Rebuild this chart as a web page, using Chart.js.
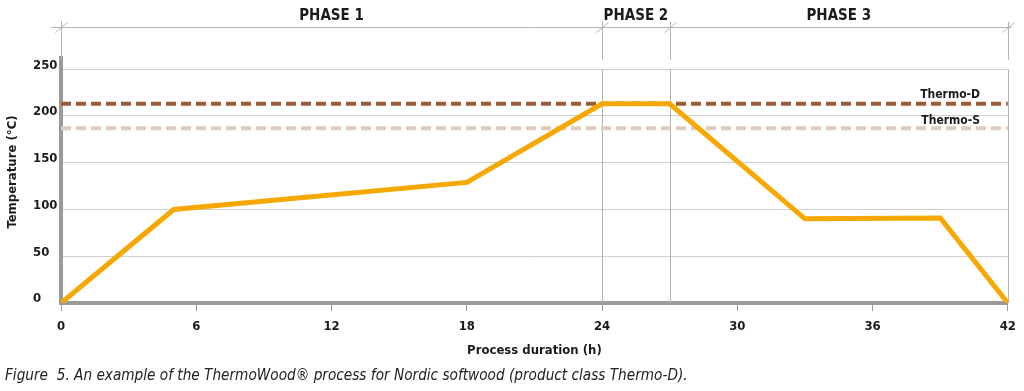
<!DOCTYPE html>
<html>
<head>
<meta charset="utf-8">
<script src="https://cdn.jsdelivr.net/npm/chart.js@4.4.1/dist/chart.umd.min.js"></script>
<style>
  html, body { margin: 0; padding: 0; background: #fff; }
  #wrap { width: 1024px; height: 391px; position: relative; }
</style>
</head>
<body>
<div id="wrap"><canvas id="chart"></canvas></div>
<script>
// data
var hours = [0, 5, 18, 24, 27, 33, 39, 42];
var temps = [0, 100, 129, 213, 213, 90, 91, 0];
var thermoD = 213;
var thermoS = 187;
var phaseBounds = [0, 24, 27, 42];
var phaseNames = ['PHASE 1', 'PHASE 2', 'PHASE 3'];
var yTicks = [0, 50, 100, 150, 200, 250];

var FONT = "'Liberation Sans Narrow', 'DejaVu Sans Condensed', 'Roboto Condensed', sans-serif";
var INK = '#1b1b1b';

function pts(xs, ys) {
  return xs.map(function(x, i) { return { x: x, y: ys[i] }; });
}

// phase bar, phase dividers, labels and captions
var extras = {
  id: 'extras',
  beforeDatasetsDraw: function(chart) {
    var ctx = chart.ctx, xs = chart.scales.x, ys = chart.scales.y;
    var top = ys.getPixelForValue(250), bottom = chart.chartArea.bottom;
    ctx.save();
    ctx.strokeStyle = '#b4b4b4';
    ctx.lineWidth = 1;
    phaseBounds.slice(1).forEach(function(b) {
      var x = Math.round(xs.getPixelForValue(b)) + 0.5;
      ctx.beginPath();
      ctx.moveTo(x, top);
      ctx.lineTo(x, bottom);
      ctx.stroke();
    });
    ctx.restore();
  },
  afterDraw: function(chart) {
    var ctx = chart.ctx, xs = chart.scales.x, ys = chart.scales.y;
    var area = chart.chartArea;
    var barY = 27.5;
    ctx.save();
    // phase bar
    ctx.strokeStyle = '#b4b4b4';
    ctx.lineWidth = 1;
    ctx.beginPath();
    ctx.moveTo(xs.getPixelForValue(0) - 10, barY);
    ctx.lineTo(xs.getPixelForValue(42) + 4, barY);
    ctx.stroke();
    phaseBounds.forEach(function(b) {
      var x = Math.round(xs.getPixelForValue(b)) + 0.5;
      ctx.beginPath();
      ctx.moveTo(x, barY - 6);
      ctx.lineTo(x, area.top + 2);
      ctx.moveTo(x - 6, barY + 5);
      ctx.lineTo(x + 6, barY - 5);
      ctx.stroke();
    });
    // phase names
    ctx.fillStyle = INK;
    ctx.font = 'bold 15px ' + FONT;
    ctx.textAlign = 'center';
    ctx.textBaseline = 'middle';
    phaseNames.forEach(function(n, i) {
      var cx = (xs.getPixelForValue(phaseBounds[i]) + xs.getPixelForValue(phaseBounds[i + 1])) / 2;
      ctx.fillText(n, cx, 16);
    });
    // thermo labels
    ctx.font = 'bold 12px ' + FONT;
    ctx.textAlign = 'right';
    ctx.textBaseline = 'bottom';
    ctx.fillText('Thermo-D', 980, ys.getPixelForValue(thermoD) - 3);
    ctx.fillText('Thermo-S', 980, ys.getPixelForValue(thermoS) - 1);
    // axis titles
    ctx.font = 'bold 13px ' + FONT;
    ctx.textAlign = 'center';
    ctx.textBaseline = 'middle';
    ctx.fillText('Process duration (h)', (area.left + area.right) / 2, 351);
    ctx.save();
    ctx.translate(13, 172);
    ctx.rotate(-Math.PI / 2);
    ctx.fillText('Temperature (\u00b0C)', 0, 0);
    ctx.restore();
    // caption
    ctx.font = 'italic 15.2px ' + FONT;
    ctx.textAlign = 'left';
    ctx.fillStyle = '#222';
    ctx.fillText('Figure  5. An example of the ThermoWood\u00ae process for Nordic softwood (product class Thermo-D).', 5, 376);
    ctx.restore();
  }
};

new Chart(document.getElementById('chart'), {
  type: 'line',
  data: {
    datasets: [
      {
        data: pts(hours, temps),
        borderColor: '#f6a800',
        borderWidth: 5,
        pointRadius: 0,
        order: 0
      },
      {
        data: pts([0, 42], [thermoD, thermoD]),
        borderColor: '#9c5a35',
        borderWidth: 4,
        borderDash: [10, 5],
        pointRadius: 0,
        order: 1
      },
      {
        data: pts([0, 42], [thermoS, thermoS]),
        borderColor: '#e0cabb',
        borderWidth: 4,
        borderDash: [10, 5],
        pointRadius: 0,
        order: 2
      }
    ]
  },
  options: {
    responsive: true,
    maintainAspectRatio: false,
    animation: false,
    layout: { padding: { top: 58, left: 33, right: 16, bottom: 0 } },
    plugins: { legend: { display: false }, tooltip: { enabled: false } },
    scales: {
      x: {
        type: 'linear',
        min: 0,
        max: 42,
        ticks: { stepSize: 6, color: INK, font: { family: FONT, size: 13, weight: 'bold' }, padding: 8, maxRotation: 0 },
        grid: { drawOnChartArea: false, drawTicks: true, tickLength: 8, color: '#9a9a9a' },
        border: { display: true, color: '#9a9a9a', width: 4 },
        afterFit: function(s) { s.height = 88; }
      },
      y: {
        min: 0,
        max: 262,
        ticks: { stepSize: 50, color: INK, font: { family: FONT, size: 13, weight: 'bold' }, crossAlign: 'far', labelOffset: -4 },
        afterBuildTicks: function(s) { s.ticks = yTicks.map(function(v) { return { value: v }; }); },
        grid: {
          drawTicks: false,
          color: function(c) { return c.tick && c.tick.value === 0 ? 'rgba(0,0,0,0)' : '#cfcfcf'; }
        },
        border: { display: true, color: '#9a9a9a', width: 4 },
        afterFit: function(s) { s.width = 28; }
      }
    }
  },
  plugins: [extras]
});
</script>
</body>
</html>
